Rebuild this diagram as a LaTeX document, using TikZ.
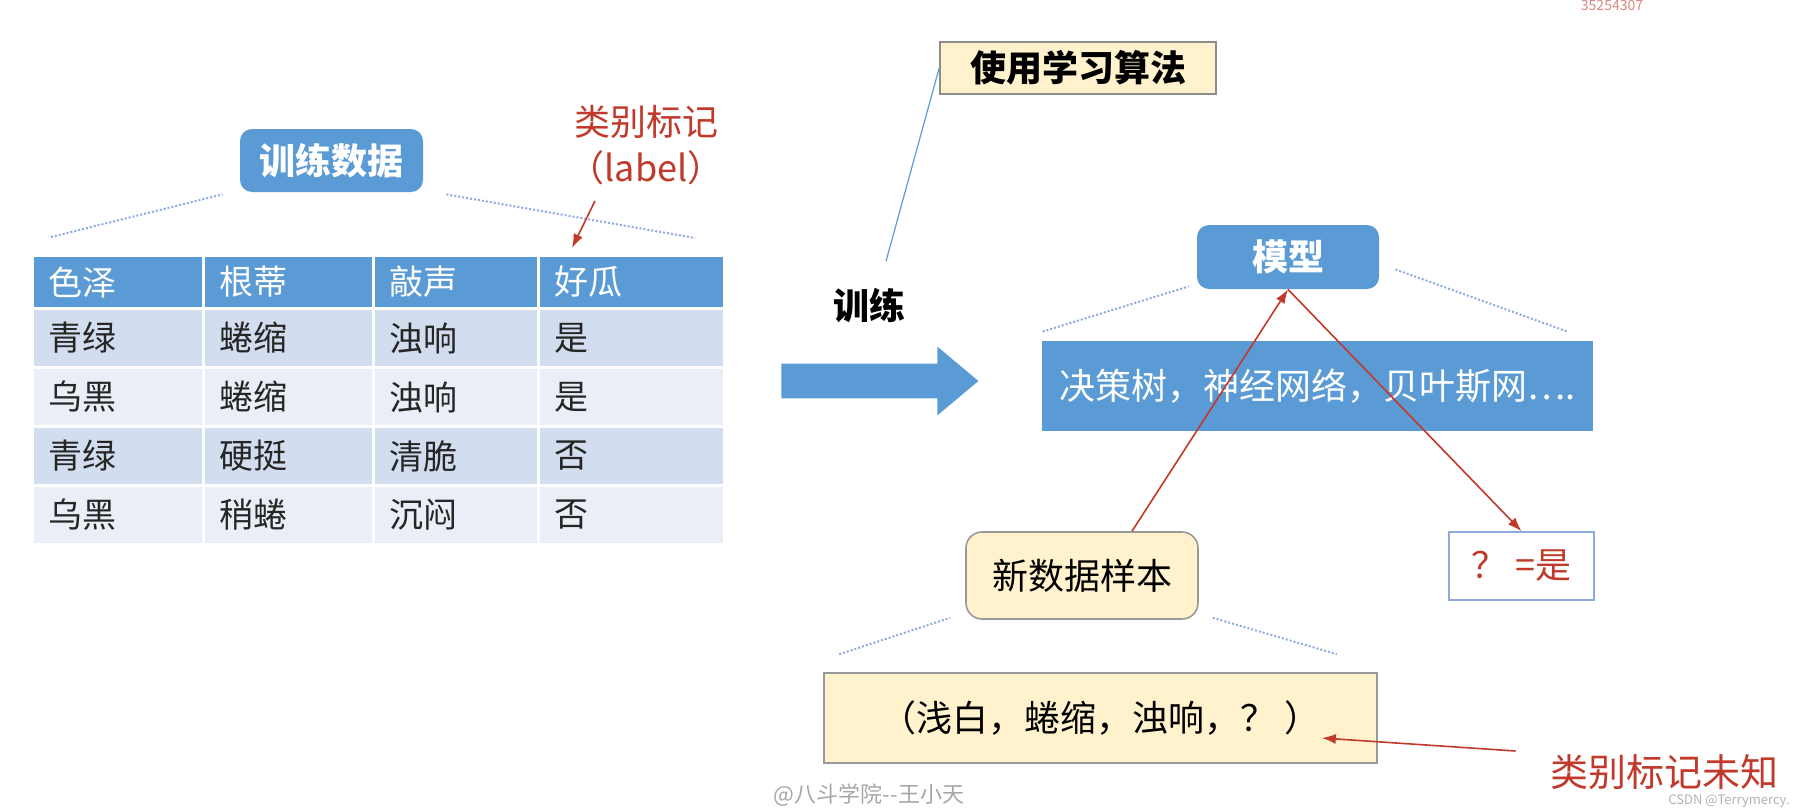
\documentclass[tikz,border=0pt]{standalone}
\usepackage{fontspec}
\setmainfont{Noto Sans CJK SC}
\usetikzlibrary{positioning,arrows.meta,shapes.arrows}
\definecolor{tblue}{HTML}{5B9BD5}
\definecolor{rowa}{HTML}{D2DEEF}
\definecolor{rowb}{HTML}{EAEFF7}
\definecolor{pale}{HTML}{FFF2CC}
\definecolor{mark}{HTML}{C0392B}
\definecolor{gline}{HTML}{8FAADC}

\begin{document}
\begin{tikzpicture}[x=0.5pt, y=-0.5pt, font=\fontsize{18}{21}\selectfont,
  bluebox/.style={fill=tblue, text=white, rounded corners=6pt, inner sep=0pt, font=\fontsize{18}{21}\selectfont\bfseries},
  palebox/.style={fill=pale, draw=black!40, line width=0.8pt, inner sep=0pt},
  cell/.style={anchor=north west, draw=white, line width=1.5pt, inner xsep=8pt, inner ysep=0pt, minimum height=29.5pt, text width=#1, text=black!85, font=\fontsize{17}{20}\selectfont},
  head/.style={fill=tblue, text=white, minimum height=26.5pt},
  redarr/.style={-{Latex[length=7pt,width=5pt]}, color=mark, line width=0.8pt},
  guide/.style={densely dotted, color=gline, line width=1pt}]
\useasboundingbox (0,0) rectangle (1793,809);
% training data and its table
\node[bluebox, minimum width=91.5pt, minimum height=31.5pt] (td) at (331.5,160.5) {训练数据};
\node[text=mark, align=center, font=\fontsize{18}{23}\selectfont] (lbl) at (646,145) {类别标记\\（label）};
\node[cell=69.5pt, head] (h1) at (31,254) {色泽}; \node[cell=69pt, head] (h2) at (202,254) {根蒂}; \node[cell=66.5pt, head] (h3) at (372,254) {敲声}; \node[cell=77pt, head] (h4) at (537,254) {好瓜};
\node[cell=69.5pt, fill=rowa] (a1) at (31,307) {青绿}; \node[cell=69pt, fill=rowa] (a2) at (202,307) {蜷缩}; \node[cell=66.5pt, fill=rowa] (a3) at (372,307) {浊响}; \node[cell=77pt, fill=rowa] (a4) at (537,307) {是};
\node[cell=69.5pt, fill=rowb] (b1) at (31,366) {乌黑}; \node[cell=69pt, fill=rowb] (b2) at (202,366) {蜷缩}; \node[cell=66.5pt, fill=rowb] (b3) at (372,366) {浊响}; \node[cell=77pt, fill=rowb] (b4) at (537,366) {是};
\node[cell=69.5pt, fill=rowa] (c1) at (31,425) {青绿}; \node[cell=69pt, fill=rowa] (c2) at (202,425) {硬挺}; \node[cell=66.5pt, fill=rowa] (c3) at (372,425) {清脆}; \node[cell=77pt, fill=rowa] (c4) at (537,425) {否};
\node[cell=69.5pt, fill=rowb] (d1) at (31,484) {乌黑}; \node[cell=69pt, fill=rowb] (d2) at (202,484) {稍蜷}; \node[cell=66.5pt, fill=rowb] (d3) at (372,484) {沉闷}; \node[cell=77pt, fill=rowb] (d4) at (537,484) {否};
\draw[guide] ([shift={(20,-17)}]h1.north west) -- ([shift={(-17,2)}]td.south west);
\draw[guide] ([shift={(23,2)}]td.south east) -- ([shift={(-31,-16)}]h4.north east);
\draw[redarr] ([shift={(-51,9)}]lbl.south) -- ([shift={(35,-6)}]h4.north west);
% training step
\node[palebox, draw=black!45, minimum width=138pt, minimum height=26pt, font=\fontsize{18}{21}\selectfont\bfseries] (sa) at (1078,68) {使用学习算法};
\node[inner sep=0pt, font=\fontsize{18}{21}\selectfont\bfseries] (tr) at (869,306) {训练};
\draw[tblue, line width=0.6pt] (sa.west) -- ([shift={(17,-27)}]tr.north);
\node[single arrow, fill=tblue, inner sep=8.5pt, minimum height=98.5pt, minimum width=34pt, single arrow head extend=8.5pt, single arrow tip angle=80] (go) at (869.5,381) {};
% model and prediction
\node[bluebox, minimum width=91pt, minimum height=32pt] (mx) at (1288,257) {模型};
\node[fill=tblue, text=white, minimum width=275.5pt, minimum height=45pt, inner sep=0pt] (alg) at (1317.5,386) {决策树，神经网络，贝叶斯网….};
\draw[guide] ([shift={(1,-9)}]alg.north west) -- ([shift={(-8,-3)}]mx.south west);
\draw[guide] ([shift={(16,-20)}]mx.south east) -- ([shift={(-26,-9)}]alg.north east);
\node[palebox, rounded corners=8pt, minimum width=116pt, minimum height=43.5pt] (ns) at (1082,575.5) {新数据样本};
\node[draw=gline, fill=white, line width=0.8pt, minimum width=72.5pt, minimum height=34pt, inner sep=0pt, text=mark] (q) at (1521.5,566) {？ =是};
\node[palebox, draw=black!40, minimum width=276.5pt, minimum height=45pt] (smp) at (1100.5,718) {（浅白，蜷缩，浊响，？ ）};
\draw[guide] ([shift={(16,-18)}]smp.north west) -- ([shift={(-15,-2)}]ns.south west);
\draw[guide] ([shift={(14,-2)}]ns.south east) -- ([shift={(-41,-18)}]smp.north east);
\draw[redarr] ([xshift=25]ns.north) -- (mx.south);
\draw[redarr] (mx.south) -- (q.north);
\node[inner sep=0pt, text=mark, font=\fontsize{19}{22}\selectfont] (unk) at (1664,772) {类别标记未知};
\draw[redarr] ([shift={(-34,-21)}]unk.west) -- ([shift={(-56,20)}]smp.east);
% watermarks
\node[anchor=north, inner sep=0pt, text=mark!60, font=\fontsize{7}{8}\selectfont] (wm1) at (1612,0) {35254307};
\node[anchor=south, inner sep=1pt, text=black!35, font=\fontsize{11}{13}\selectfont] (wm2) at (869,809) {@八斗学院-{}-王小天};
\node[anchor=south east, inner sep=0pt, text=black!30, font=\fontsize{6.5}{7}\selectfont] (wm3) at (1790,808) {CSDN @Terrymercy.};
\end{tikzpicture}
\end{document}
